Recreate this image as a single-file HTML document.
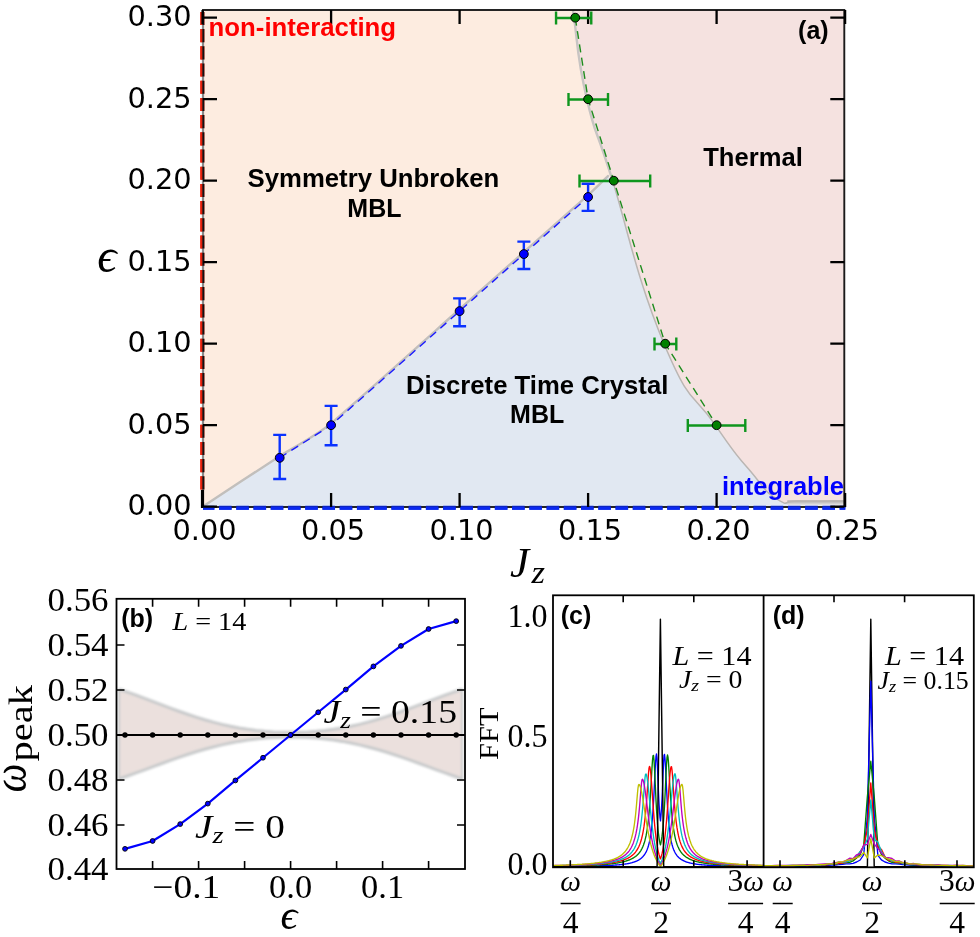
<!DOCTYPE html>
<html lang="en"><head><meta charset="utf-8"><title>Phase diagram</title>
<style>html,body{margin:0;padding:0;background:#fff;}svg{display:block;filter:blur(0.4px);}</style></head>
<body>
<svg width="980" height="937" viewBox="0 0 980 937">
<rect x="0" y="0" width="980" height="937" fill="#ffffff"/>
<defs><clipPath id="ca"><rect x="203.0" y="10.0" width="641.3" height="497.0"/></clipPath>
<filter id="bl1" x="-5%" y="-5%" width="110%" height="110%"><feGaussianBlur stdDeviation="0.6"/></filter>
<filter id="bl2" x="-5%" y="-5%" width="110%" height="110%"><feGaussianBlur stdDeviation="0.8"/></filter>
</defs>
<g clip-path="url(#ca)">
<rect x="203.0" y="10.0" width="641.3" height="497.0" fill="#fdece0"/>
<path d="M573.54 10.00 C573.67 12.05 570.49 -6.09 574.05 17.70 C577.61 41.49 576.62 55.73 586.90 99.20 C597.18 142.67 592.04 115.50 612.60 180.70 C633.16 245.90 636.59 278.50 664.00 343.70 C691.41 408.90 692.44 391.30 715.40 425.20 C738.36 459.10 733.53 451.06 750.09 470.84 C766.66 490.62 764.51 491.32 777.51 499.37 C790.51 507.41 781.03 500.56 798.84 501.00 C816.65 501.43 832.18 501.00 844.30 501.00 L844.30 501.00 L844.30 10.00 Z" fill="#f5e2e0"/>
<path d="M202.60 506.70 C208.70 502.70 268.59 463.31 278.80 456.70 C289.01 450.09 315.81 435.84 330.20 424.10 C344.59 412.36 443.28 323.69 458.70 310.00 C474.12 296.31 512.67 262.08 522.95 252.95 C533.23 243.82 580.40 202.05 587.20 195.90 C594.00 189.75 606.27 177.68 607.93 176.09 L612.60 180.70 C626.31 224.17 636.59 278.50 664.00 343.70 C691.41 408.90 692.44 391.30 715.40 425.20 C738.36 459.10 733.53 451.06 750.09 470.84 C766.66 490.62 764.51 491.32 777.51 499.37 C790.51 507.41 781.03 500.56 798.84 501.00 C816.65 501.43 832.18 501.00 844.30 501.00 L844.30 509.00 L203.00 509.00 Z" fill="#e1e8f2"/>
<defs><linearGradient id="gs" x1="0" y1="0" x2="0" y2="1"><stop offset="0" stop-color="#a9a6a4"/><stop offset="1" stop-color="#f4f4f4"/></linearGradient></defs>
<rect x="787.3" y="500.4" width="57.0" height="5.6" fill="url(#gs)"/>
<g filter="url(#bl1)" fill="none" stroke-linecap="round">
<path d="M202.60 506.70 C208.70 502.70 268.59 463.31 278.80 456.70 C289.01 450.09 315.81 435.84 330.20 424.10 C344.59 412.36 443.28 323.69 458.70 310.00 C474.12 296.31 512.67 262.08 522.95 252.95 C533.23 243.82 580.40 202.05 587.20 195.90 C594.00 189.75 606.27 177.68 607.93 176.09" stroke="#c2bfbc" stroke-width="2.4"/>
<path d="M573.54 10.00 C573.67 12.05 570.49 -6.09 574.05 17.70 C577.61 41.49 576.62 55.73 586.90 99.20 C597.18 142.67 592.04 115.50 612.60 180.70 " stroke="#c8c5c3" stroke-width="2.4"/>
<path d="M612.60 180.70 C626.31 224.17 636.59 278.50 664.00 343.70 C691.41 408.90 692.44 391.30 715.40 425.20 C738.36 459.10 733.53 451.06 750.09 470.84 C766.66 490.62 764.51 491.32 777.51 499.37 C790.51 507.41 781.03 500.56 798.84 501.00 C816.65 501.43 832.18 501.00 844.30 501.00" stroke="#bab6b3" stroke-width="1.5"/>
</g>
</g>
<polyline points="279.70,457.80 331.10,425.20 459.60,311.10 523.85,254.05 588.10,197.00" fill="none" stroke="#1a1aff" stroke-width="1.4" stroke-dasharray="8 5.8"/>
<polyline points="575.25,17.70 588.10,99.20 613.80,180.70 665.20,343.70 716.60,425.20" fill="none" stroke="#1e8c1e" stroke-width="1.4" stroke-dasharray="8 5.5"/>
<line x1="202.4" y1="11.9" x2="202.4" y2="490.5" stroke="#e8200a" stroke-width="4" stroke-dasharray="13.1 4.1"/>
<line x1="203.0" y1="507.8" x2="845.3" y2="507.8" stroke="#0a28f0" stroke-width="4" stroke-dasharray="12.6 4.64" stroke-dashoffset="-16.00"/>
<rect x="203.0" y="10.0" width="641.3" height="497.0" fill="none" stroke="#1a1a1a" stroke-width="1.9"/>
<line x1="203.0" y1="24" x2="203.0" y2="490" stroke="#8a8a8a" stroke-width="2.2"/>
<line x1="203.2" y1="11.9" x2="203.2" y2="490.5" stroke="#111" stroke-width="2.2" stroke-dasharray="13.1 4.1"/>
<line x1="202.5" y1="490" x2="202.5" y2="508.0" stroke="#000" stroke-width="3.2"/>
<line x1="203.0" y1="508.0" x2="845.3" y2="508.0" stroke="#0a28f0" stroke-width="3.4" stroke-dasharray="12.6 4.64" stroke-dashoffset="-16.00"/>
<line x1="201.3" y1="11.9" x2="201.3" y2="490.5" stroke="#e8200a" stroke-width="2" stroke-dasharray="13.1 4.1"/>
<path d="M203.0 506.70 h14 M844.3 506.70 h-14 M203.0 425.20 h14 M844.3 425.20 h-14 M203.0 343.70 h14 M844.3 343.70 h-14 M203.0 262.20 h14 M844.3 262.20 h-14 M203.0 180.70 h14 M844.3 180.70 h-14 M203.0 99.20 h14 M844.3 99.20 h-14 M203.0 17.70 h14 M844.3 17.70 h-14 M202.60 507.0 v-14 M202.60 10.0 v14 M331.10 507.0 v-14 M331.10 10.0 v14 M459.60 507.0 v-14 M459.60 10.0 v14 M588.10 507.0 v-14 M588.10 10.0 v14 M716.60 507.0 v-14 M716.60 10.0 v14 M845.10 507.0 v-14 M845.10 10.0 v14" stroke="#000" stroke-width="2.3" fill="none"/>
<path d="M279.70 434.90 V479.00 M273.20 434.90 h13 M273.20 479.00 h13" stroke="#0a32ff" stroke-width="2.4" fill="none"/>
<path d="M331.10 405.90 V445.20 M324.60 405.90 h13 M324.60 445.20 h13" stroke="#0a32ff" stroke-width="2.4" fill="none"/>
<path d="M459.60 298.40 V326.30 M453.10 298.40 h13 M453.10 326.30 h13" stroke="#0a32ff" stroke-width="2.4" fill="none"/>
<path d="M523.85 241.65 V269.05 M517.35 241.65 h13 M517.35 269.05 h13" stroke="#0a32ff" stroke-width="2.4" fill="none"/>
<path d="M588.10 183.70 V210.90 M581.60 183.70 h13 M581.60 210.90 h13" stroke="#0a32ff" stroke-width="2.4" fill="none"/>
<path d="M556.05 18.00 H591.25 M556.05 11.50 v13 M591.25 11.50 v13" stroke="#0f961e" stroke-width="2.4" fill="none"/>
<path d="M568.50 99.50 H608.00 M568.50 93.00 v13 M608.00 93.00 v13" stroke="#0f961e" stroke-width="2.4" fill="none"/>
<path d="M579.50 181.00 H650.20 M579.50 174.50 v13 M650.20 174.50 v13" stroke="#0f961e" stroke-width="2.4" fill="none"/>
<path d="M654.50 344.00 H676.30 M654.50 337.50 v13 M676.30 337.50 v13" stroke="#0f961e" stroke-width="2.4" fill="none"/>
<path d="M687.80 425.50 H745.30 M687.80 419.00 v13 M745.30 419.00 v13" stroke="#0f961e" stroke-width="2.4" fill="none"/>
<circle cx="279.70" cy="457.80" r="4.4" fill="#0000ff" stroke="#000" stroke-width="1"/>
<circle cx="331.10" cy="425.20" r="4.4" fill="#0000ff" stroke="#000" stroke-width="1"/>
<circle cx="459.60" cy="311.10" r="4.4" fill="#0000ff" stroke="#000" stroke-width="1"/>
<circle cx="523.85" cy="254.05" r="4.4" fill="#0000ff" stroke="#000" stroke-width="1"/>
<circle cx="588.10" cy="197.00" r="4.4" fill="#0000ff" stroke="#000" stroke-width="1"/>
<circle cx="575.25" cy="17.70" r="4.4" fill="#008000" stroke="#000" stroke-width="1"/>
<circle cx="588.10" cy="99.20" r="4.4" fill="#008000" stroke="#000" stroke-width="1"/>
<circle cx="613.80" cy="180.70" r="4.4" fill="#008000" stroke="#000" stroke-width="1"/>
<circle cx="665.20" cy="343.70" r="4.4" fill="#008000" stroke="#000" stroke-width="1"/>
<circle cx="716.60" cy="425.20" r="4.4" fill="#008000" stroke="#000" stroke-width="1"/>
<g font-family="'DejaVu Sans', sans-serif" font-size="28.8px" fill="#000">
<text x="191.6" y="515.1" text-anchor="end">0.00</text>
<text x="191.6" y="433.6" text-anchor="end">0.05</text>
<text x="191.6" y="352.1" text-anchor="end">0.10</text>
<text x="191.6" y="270.6" text-anchor="end">0.15</text>
<text x="191.6" y="189.1" text-anchor="end">0.20</text>
<text x="191.6" y="107.6" text-anchor="end">0.25</text>
<text x="191.6" y="26.1" text-anchor="end">0.30</text>
<text x="204.6" y="539.8" text-anchor="middle">0.00</text>
<text x="333.1" y="539.8" text-anchor="middle">0.05</text>
<text x="461.6" y="539.8" text-anchor="middle">0.10</text>
<text x="590.1" y="539.8" text-anchor="middle">0.15</text>
<text x="718.6" y="539.8" text-anchor="middle">0.20</text>
<text x="847.1" y="539.8" text-anchor="middle">0.25</text>
</g>
<text x="208.6" y="35.5" text-anchor="start" fill="#ff0000" font-family="'Liberation Sans', sans-serif" font-weight="bold" font-size="25px" textLength="187.5" lengthAdjust="spacingAndGlyphs">non-interacting</text>
<text x="373.4" y="187.0" text-anchor="middle" fill="#000" font-family="'Liberation Sans', sans-serif" font-weight="bold" font-size="25px" textLength="251.8" lengthAdjust="spacingAndGlyphs">Symmetry Unbroken</text>
<text x="374.4" y="217.0" text-anchor="middle" fill="#000" font-family="'Liberation Sans', sans-serif" font-weight="bold" font-size="25px">MBL</text>
<text x="537.2" y="393.7" text-anchor="middle" fill="#000" font-family="'Liberation Sans', sans-serif" font-weight="bold" font-size="25px" textLength="262.3" lengthAdjust="spacingAndGlyphs">Discrete Time Crystal</text>
<text x="537.2" y="423.4" text-anchor="middle" fill="#000" font-family="'Liberation Sans', sans-serif" font-weight="bold" font-size="25px">MBL</text>
<text x="753.0" y="166.0" text-anchor="middle" fill="#000" font-family="'Liberation Sans', sans-serif" font-weight="bold" font-size="25px" textLength="99.5" lengthAdjust="spacingAndGlyphs">Thermal</text>
<text x="844.0" y="495.0" text-anchor="end" fill="#0000ff" font-family="'Liberation Sans', sans-serif" font-weight="bold" font-size="25px" textLength="122.0" lengthAdjust="spacingAndGlyphs">integrable</text>
<text x="813.4" y="39.3" text-anchor="middle" fill="#000" font-family="'Liberation Sans', sans-serif" font-weight="bold" font-size="25px">(a)</text>
<text x="107" y="272.4" text-anchor="middle" font-family="'Liberation Serif', 'DejaVu Serif', serif" font-style="italic" font-size="48px">ϵ</text>
<text x="510" y="577" font-family="'Liberation Serif', 'DejaVu Serif', serif" font-style="italic" font-size="43px">J</text><text x="531.5" y="583" font-family="'Liberation Serif', 'DejaVu Serif', serif" font-style="italic" font-size="32px" textLength="13.5" lengthAdjust="spacingAndGlyphs">z</text>
<defs><clipPath id="cb"><rect x="116.5" y="598.8" width="348.5" height="270.2"/></clipPath></defs>
<g clip-path="url(#cb)">
<path d="M118.93 689.13 L127.51 692.06 L136.10 695.16 L144.68 698.38 L153.26 701.64 L161.85 704.91 L170.43 708.14 L179.01 711.27 L187.60 714.27 L196.18 717.10 L204.76 719.74 L213.35 722.17 L221.93 724.35 L230.51 726.28 L239.10 727.94 L247.68 729.33 L256.27 730.45 L264.85 731.30 L273.43 731.89 L282.02 732.23 L290.60 732.34 L299.18 732.23 L307.77 731.89 L316.35 731.30 L324.93 730.45 L333.52 729.33 L342.10 727.94 L350.69 726.28 L359.27 724.35 L367.85 722.17 L376.44 719.74 L385.02 717.10 L393.60 714.27 L402.19 711.27 L410.77 708.14 L419.35 704.91 L427.94 701.64 L436.52 698.38 L445.10 695.16 L453.69 692.06 L462.27 689.13 L462.27 778.96 L453.69 776.03 L445.10 772.96 L436.52 769.82 L427.94 766.65 L419.35 763.49 L410.77 760.39 L402.19 757.39 L393.60 754.52 L385.02 751.80 L376.44 749.28 L367.85 746.95 L359.27 744.86 L350.69 743.00 L342.10 741.40 L333.52 740.05 L324.93 738.95 L316.35 738.12 L307.77 737.54 L299.18 737.20 L290.60 737.09 L282.02 737.20 L273.43 737.54 L264.85 738.12 L256.27 738.95 L247.68 740.05 L239.10 741.40 L230.51 743.00 L221.93 744.86 L213.35 746.95 L204.76 749.28 L196.18 751.80 L187.60 754.52 L179.01 757.39 L170.43 760.39 L161.85 763.49 L153.26 766.65 L144.68 769.82 L136.10 772.96 L127.51 776.03 L118.93 778.96 Z" fill="#ebe0dd"/>
<g filter="url(#bl2)" fill="none" stroke="#c9cbcc" stroke-width="3">
<path d="M118.93 689.13 L127.51 692.06 L136.10 695.16 L144.68 698.38 L153.26 701.64 L161.85 704.91 L170.43 708.14 L179.01 711.27 L187.60 714.27 L196.18 717.10 L204.76 719.74 L213.35 722.17 L221.93 724.35 L230.51 726.28 L239.10 727.94 L247.68 729.33 L256.27 730.45 L264.85 731.30 L273.43 731.89 L282.02 732.23 L290.60 732.34 L299.18 732.23 L307.77 731.89 L316.35 731.30 L324.93 730.45 L333.52 729.33 L342.10 727.94 L350.69 726.28 L359.27 724.35 L367.85 722.17 L376.44 719.74 L385.02 717.10 L393.60 714.27 L402.19 711.27 L410.77 708.14 L419.35 704.91 L427.94 701.64 L436.52 698.38 L445.10 695.16 L453.69 692.06 L462.27 689.13"/>
<path d="M118.93 778.96 L127.51 776.03 L136.10 772.96 L144.68 769.82 L153.26 766.65 L161.85 763.49 L170.43 760.39 L179.01 757.39 L187.60 754.52 L196.18 751.80 L204.76 749.28 L213.35 746.95 L221.93 744.86 L230.51 743.00 L239.10 741.40 L247.68 740.05 L256.27 738.95 L264.85 738.12 L273.43 737.54 L282.02 737.20 L290.60 737.09 L299.18 737.20 L307.77 737.54 L316.35 738.12 L324.93 738.95 L333.52 740.05 L342.10 741.40 L350.69 743.00 L359.27 744.86 L367.85 746.95 L376.44 749.28 L385.02 751.80 L393.60 754.52 L402.19 757.39 L410.77 760.39 L419.35 763.49 L427.94 766.65 L436.52 769.82 L445.10 772.96 L453.69 776.03 L462.27 778.96"/>
<path d="M118.93 689.13 V778.96 M462.27 689.13 V778.96" stroke-width="2"/>
</g></g>
<line x1="116.50" y1="735.00" x2="465.00" y2="735.00" stroke="#000" stroke-width="2"/>
<circle cx="125.00" cy="735.00" r="2.7" fill="#000"/>
<circle cx="152.60" cy="735.00" r="2.7" fill="#000"/>
<circle cx="180.20" cy="735.00" r="2.7" fill="#000"/>
<circle cx="207.80" cy="735.00" r="2.7" fill="#000"/>
<circle cx="235.40" cy="735.00" r="2.7" fill="#000"/>
<circle cx="263.00" cy="735.00" r="2.7" fill="#000"/>
<circle cx="290.60" cy="735.00" r="2.7" fill="#000"/>
<circle cx="318.20" cy="735.00" r="2.7" fill="#000"/>
<circle cx="345.80" cy="735.00" r="2.7" fill="#000"/>
<circle cx="373.40" cy="735.00" r="2.7" fill="#000"/>
<circle cx="401.00" cy="735.00" r="2.7" fill="#000"/>
<circle cx="428.60" cy="735.00" r="2.7" fill="#000"/>
<circle cx="456.20" cy="735.00" r="2.7" fill="#000"/>
<polyline points="125.00,848.85 152.60,840.98 180.20,824.10 207.80,803.62 235.40,780.45 263.00,757.73 290.60,735.00 318.20,712.27 345.80,689.55 373.40,666.38 401.00,645.90 428.60,629.02 456.20,621.15" fill="none" stroke="#0000ff" stroke-width="2.2" stroke-linejoin="round"/>
<circle cx="125.00" cy="848.85" r="2.4" fill="#0000ff" stroke="#000" stroke-width="0.9"/>
<circle cx="152.60" cy="840.98" r="2.4" fill="#0000ff" stroke="#000" stroke-width="0.9"/>
<circle cx="180.20" cy="824.10" r="2.4" fill="#0000ff" stroke="#000" stroke-width="0.9"/>
<circle cx="207.80" cy="803.62" r="2.4" fill="#0000ff" stroke="#000" stroke-width="0.9"/>
<circle cx="235.40" cy="780.45" r="2.4" fill="#0000ff" stroke="#000" stroke-width="0.9"/>
<circle cx="263.00" cy="757.73" r="2.4" fill="#0000ff" stroke="#000" stroke-width="0.9"/>
<circle cx="290.60" cy="735.00" r="2.4" fill="#0000ff" stroke="#000" stroke-width="0.9"/>
<circle cx="318.20" cy="712.27" r="2.4" fill="#0000ff" stroke="#000" stroke-width="0.9"/>
<circle cx="345.80" cy="689.55" r="2.4" fill="#0000ff" stroke="#000" stroke-width="0.9"/>
<circle cx="373.40" cy="666.38" r="2.4" fill="#0000ff" stroke="#000" stroke-width="0.9"/>
<circle cx="401.00" cy="645.90" r="2.4" fill="#0000ff" stroke="#000" stroke-width="0.9"/>
<circle cx="428.60" cy="629.02" r="2.4" fill="#0000ff" stroke="#000" stroke-width="0.9"/>
<circle cx="456.20" cy="621.15" r="2.4" fill="#0000ff" stroke="#000" stroke-width="0.9"/>
<rect x="116.5" y="598.8" width="348.5" height="270.2" fill="none" stroke="#000" stroke-width="1.8"/>
<path d="M116.5 825.00 h8 M465.0 825.00 h-8 M116.5 780.00 h8 M465.0 780.00 h-8 M116.5 735.00 h8 M465.0 735.00 h-8 M116.5 690.00 h8 M465.0 690.00 h-8 M116.5 645.00 h8 M465.0 645.00 h-8 M152.60 869.0 v-8 M152.60 598.8 v8 M198.60 869.0 v-8 M198.60 598.8 v8 M244.60 869.0 v-8 M244.60 598.8 v8 M290.60 869.0 v-8 M290.60 598.8 v8 M336.60 869.0 v-8 M336.60 598.8 v8 M382.60 869.0 v-8 M382.60 598.8 v8 M428.60 869.0 v-8 M428.60 598.8 v8" stroke="#000" stroke-width="1.6" fill="none"/>
<g font-family="'Liberation Serif', 'DejaVu Serif', serif" font-size="33px" fill="#000">
<text x="108.5" y="880.3" text-anchor="end" textLength="61" lengthAdjust="spacingAndGlyphs">0.44</text>
<text x="108.5" y="836.2" text-anchor="end" textLength="61" lengthAdjust="spacingAndGlyphs">0.46</text>
<text x="108.5" y="791.2" text-anchor="end" textLength="61" lengthAdjust="spacingAndGlyphs">0.48</text>
<text x="108.5" y="746.2" text-anchor="end" textLength="61" lengthAdjust="spacingAndGlyphs">0.50</text>
<text x="108.5" y="701.2" text-anchor="end" textLength="61" lengthAdjust="spacingAndGlyphs">0.52</text>
<text x="108.5" y="656.2" text-anchor="end" textLength="61" lengthAdjust="spacingAndGlyphs">0.54</text>
<text x="108.5" y="611.2" text-anchor="end" textLength="61" lengthAdjust="spacingAndGlyphs">0.56</text>
<text x="220.3" y="897.5" text-anchor="end" textLength="68" lengthAdjust="spacingAndGlyphs">−0.1</text>
<text x="290.6" y="897.5" text-anchor="middle" textLength="43" lengthAdjust="spacingAndGlyphs">0.0</text>
<text x="382.6" y="897.5" text-anchor="middle" textLength="43" lengthAdjust="spacingAndGlyphs">0.1</text>
</g>
<text x="137.2" y="627.4" text-anchor="middle" fill="#000" font-family="'Liberation Sans', sans-serif" font-weight="bold" font-size="25px">(b)</text>
<text x="172.5" y="630.3" font-family="'Liberation Serif', 'DejaVu Serif', serif" font-size="25.5px" textLength="73.8" lengthAdjust="spacingAndGlyphs"><tspan font-style="italic">L</tspan> = 14</text>
<text x="323.5" y="723" font-family="'Liberation Serif', 'DejaVu Serif', serif" font-size="33px" textLength="133.5" lengthAdjust="spacingAndGlyphs"><tspan font-style="italic">J</tspan><tspan font-style="italic" font-size="24px" dy="5">z</tspan><tspan dy="-5"> = 0.15</tspan></text>
<text x="195" y="837.5" font-family="'Liberation Serif', 'DejaVu Serif', serif" font-size="33px" textLength="90" lengthAdjust="spacingAndGlyphs"><tspan font-style="italic">J</tspan><tspan font-style="italic" font-size="24px" dy="5">z</tspan><tspan dy="-5"> = 0</tspan></text>
<text x="289.0" y="929" text-anchor="middle" font-family="'Liberation Serif', 'DejaVu Serif', serif" font-style="italic" font-size="42px">ϵ</text>
<text transform="translate(26.2,792.3) rotate(-90)" font-family="'Liberation Serif', 'DejaVu Serif', serif" font-size="47px" font-style="italic" textLength="28.5" lengthAdjust="spacingAndGlyphs">ω</text>
<text transform="translate(32.2,761.5) rotate(-90)" font-family="'Liberation Serif', 'DejaVu Serif', serif" font-size="33px" textLength="76.5" lengthAdjust="spacingAndGlyphs">peak</text>
<defs><clipPath id="cc"><rect x="553.0" y="595.3" width="210.6" height="272.0"/></clipPath><clipPath id="cd"><rect x="763.6" y="595.3" width="210.2" height="272.0"/></clipPath></defs>
<g clip-path="url(#cc)" fill="none" stroke-width="1.35" stroke-linejoin="round">
<polyline stroke="#0000ff" points="553.0,866.3 553.5,866.3 554.0,866.3 554.5,866.3 555.0,866.3 555.5,866.3 556.0,866.3 556.5,866.3 557.0,866.3 557.5,866.3 558.0,866.3 558.5,866.3 559.0,866.3 559.5,866.3 560.0,866.3 560.5,866.3 561.0,866.3 561.5,866.3 562.0,866.3 562.5,866.3 563.0,866.3 563.5,866.3 564.0,866.3 564.5,866.3 565.0,866.3 565.5,866.3 566.0,866.3 566.5,866.3 567.0,866.3 567.5,866.2 568.0,866.2 568.5,866.2 569.0,866.2 569.5,866.2 570.0,866.2 570.5,866.2 571.0,866.2 571.5,866.2 572.0,866.2 572.5,866.2 573.0,866.2 573.5,866.2 574.0,866.2 574.5,866.2 575.0,866.2 575.5,866.2 576.0,866.2 576.5,866.2 577.0,866.2 577.5,866.2 578.0,866.2 578.5,866.1 579.0,866.1 579.5,866.1 580.0,866.1 580.5,866.1 581.0,866.1 581.5,866.1 582.0,866.1 582.5,866.1 583.0,866.1 583.5,866.1 584.0,866.1 584.5,866.1 585.0,866.1 585.5,866.1 586.0,866.0 586.5,866.0 587.0,866.0 587.5,866.0 588.0,866.0 588.5,866.0 589.0,866.0 589.5,866.0 590.0,866.0 590.5,866.0 591.0,866.0 591.5,866.0 592.0,865.9 592.5,865.9 593.0,865.9 593.5,865.9 594.0,865.9 594.5,865.9 595.0,865.9 595.5,865.9 596.0,865.9 596.5,865.8 597.0,865.8 597.5,865.8 598.0,865.8 598.5,865.8 599.0,865.8 599.5,865.8 600.0,865.7 600.5,865.7 601.0,865.7 601.5,865.7 602.0,865.7 602.5,865.7 603.0,865.7 603.5,865.6 604.0,865.6 604.5,865.6 605.0,865.6 605.5,865.6 606.0,865.5 606.5,865.5 607.0,865.5 607.5,865.5 608.0,865.5 608.5,865.4 609.0,865.4 609.5,865.4 610.0,865.4 610.5,865.3 611.0,865.3 611.5,865.3 612.0,865.3 612.5,865.2 613.0,865.2 613.5,865.2 614.0,865.1 614.5,865.1 615.0,865.1 615.5,865.0 616.0,865.0 616.5,865.0 617.0,864.9 617.5,864.9 618.0,864.8 618.5,864.8 619.0,864.8 619.5,864.7 620.0,864.7 620.5,864.6 621.0,864.6 621.5,864.5 622.0,864.5 622.5,864.4 623.0,864.3 623.5,864.3 624.0,864.2 624.5,864.1 625.0,864.1 625.5,864.0 626.0,863.9 626.5,863.8 627.0,863.8 627.5,863.7 628.0,863.6 628.5,863.5 629.0,863.4 629.5,863.3 630.0,863.2 630.5,863.1 631.0,862.9 631.5,862.8 632.0,862.7 632.5,862.5 633.0,862.4 633.5,862.2 634.0,862.1 634.5,861.9 635.0,861.7 635.5,861.5 636.0,861.3 636.5,861.1 637.0,860.9 637.5,860.6 638.0,860.4 638.5,860.1 639.0,859.8 639.5,859.5 640.0,859.1 640.5,858.8 641.0,858.4 641.5,858.0 642.0,857.5 642.5,857.0 643.0,856.5 643.5,855.9 644.0,855.3 644.5,854.6 645.0,853.9 645.5,853.0 646.0,852.1 646.5,851.1 647.0,849.9 647.5,848.6 648.0,847.2 648.5,845.5 649.0,843.6 649.5,841.5 650.0,838.9 650.5,836.0 651.0,832.5 651.5,828.4 652.0,823.5 652.5,817.7 653.0,810.8 653.5,802.7 654.0,793.4 654.5,783.2 655.0,772.8 655.5,763.3 656.0,756.5 656.5,754.0 657.0,758.0 657.5,768.2 658.0,780.8 658.5,792.9 659.0,803.1 659.5,811.3 660.0,817.7 660.5,820.9 661.0,815.4 661.5,808.3 662.0,799.3 662.5,788.3 663.0,775.7 663.5,763.6 664.0,755.5 664.5,754.4 665.0,758.8 665.5,766.9 666.0,776.9 666.5,787.4 667.0,797.3 667.5,806.1 668.0,813.7 668.5,820.1 669.0,825.5 669.5,830.1 670.0,833.9 670.5,837.2 671.0,840.0 671.5,842.4 672.0,844.4 672.5,846.2 673.0,847.8 673.5,849.2 674.0,850.4 674.5,851.5 675.0,852.5 675.5,853.4 676.0,854.2 676.5,854.9 677.0,855.6 677.5,856.2 678.0,856.7 678.5,857.2 679.0,857.7 679.5,858.1 680.0,858.5 680.5,858.9 681.0,859.3 681.5,859.6 682.0,859.9 682.5,860.2 683.0,860.5 683.5,860.7 684.0,861.0 684.5,861.2 685.0,861.4 685.5,861.6 686.0,861.8 686.5,862.0 687.0,862.1 687.5,862.3 688.0,862.4 688.5,862.6 689.0,862.7 689.5,862.9 690.0,863.0 690.5,863.1 691.0,863.2 691.5,863.3 692.0,863.4 692.5,863.5 693.0,863.6 693.5,863.7 694.0,863.8 694.5,863.9 695.0,863.9 695.5,864.0 696.0,864.1 696.5,864.2 697.0,864.2 697.5,864.3 698.0,864.4 698.5,864.4 699.0,864.5 699.5,864.5 700.0,864.6 700.5,864.6 701.0,864.7 701.5,864.7 702.0,864.8 702.5,864.8 703.0,864.9 703.5,864.9 704.0,864.9 704.5,865.0 705.0,865.0 705.5,865.1 706.0,865.1 706.5,865.1 707.0,865.2 707.5,865.2 708.0,865.2 708.5,865.2 709.0,865.3 709.5,865.3 710.0,865.3 710.5,865.4 711.0,865.4 711.5,865.4 712.0,865.4 712.5,865.4 713.0,865.5 713.5,865.5 714.0,865.5 714.5,865.5 715.0,865.6 715.5,865.6 716.0,865.6 716.5,865.6 717.0,865.6 717.5,865.6 718.0,865.7 718.5,865.7 719.0,865.7 719.5,865.7 720.0,865.7 720.5,865.7 721.0,865.8 721.5,865.8 722.0,865.8 722.5,865.8 723.0,865.8 723.5,865.8 724.0,865.8 724.5,865.8 725.0,865.9 725.5,865.9 726.0,865.9 726.5,865.9 727.0,865.9 727.5,865.9 728.0,865.9 728.5,865.9 729.0,865.9 729.5,866.0 730.0,866.0 730.5,866.0 731.0,866.0 731.5,866.0 732.0,866.0 732.5,866.0 733.0,866.0 733.5,866.0 734.0,866.0 734.5,866.0 735.0,866.0 735.5,866.1 736.0,866.1 736.5,866.1 737.0,866.1 737.5,866.1 738.0,866.1 738.5,866.1 739.0,866.1 739.5,866.1 740.0,866.1 740.5,866.1 741.0,866.1 741.5,866.1 742.0,866.1 742.5,866.1 743.0,866.2 743.5,866.2 744.0,866.2 744.5,866.2 745.0,866.2 745.5,866.2 746.0,866.2 746.5,866.2 747.0,866.2 747.5,866.2 748.0,866.2 748.5,866.2 749.0,866.2 749.5,866.2 750.0,866.2 750.5,866.2 751.0,866.2 751.5,866.2 752.0,866.2 752.5,866.2 753.0,866.2 753.5,866.3 754.0,866.3 754.5,866.3 755.0,866.3 755.5,866.3 756.0,866.3 756.5,866.3 757.0,866.3 757.5,866.3 758.0,866.3 758.5,866.3 759.0,866.3 759.5,866.3 760.0,866.3 760.5,866.3 761.0,866.3 761.5,866.3 762.0,866.3 762.5,866.3 763.0,866.3 763.5,866.3"/>
<polyline stroke="#008000" points="553.0,866.0 553.5,866.0 554.0,866.0 554.5,866.0 555.0,866.0 555.5,866.0 556.0,866.0 556.5,866.0 557.0,866.0 557.5,866.0 558.0,866.0 558.5,866.0 559.0,866.0 559.5,866.0 560.0,866.0 560.5,865.9 561.0,865.9 561.5,865.9 562.0,865.9 562.5,865.9 563.0,865.9 563.5,865.9 564.0,865.9 564.5,865.9 565.0,865.9 565.5,865.9 566.0,865.9 566.5,865.9 567.0,865.9 567.5,865.8 568.0,865.8 568.5,865.8 569.0,865.8 569.5,865.8 570.0,865.8 570.5,865.8 571.0,865.8 571.5,865.8 572.0,865.8 572.5,865.8 573.0,865.7 573.5,865.7 574.0,865.7 574.5,865.7 575.0,865.7 575.5,865.7 576.0,865.7 576.5,865.7 577.0,865.7 577.5,865.6 578.0,865.6 578.5,865.6 579.0,865.6 579.5,865.6 580.0,865.6 580.5,865.6 581.0,865.6 581.5,865.5 582.0,865.5 582.5,865.5 583.0,865.5 583.5,865.5 584.0,865.5 584.5,865.5 585.0,865.4 585.5,865.4 586.0,865.4 586.5,865.4 587.0,865.4 587.5,865.4 588.0,865.3 588.5,865.3 589.0,865.3 589.5,865.3 590.0,865.3 590.5,865.2 591.0,865.2 591.5,865.2 592.0,865.2 592.5,865.2 593.0,865.1 593.5,865.1 594.0,865.1 594.5,865.1 595.0,865.0 595.5,865.0 596.0,865.0 596.5,865.0 597.0,864.9 597.5,864.9 598.0,864.9 598.5,864.9 599.0,864.8 599.5,864.8 600.0,864.8 600.5,864.7 601.0,864.7 601.5,864.7 602.0,864.6 602.5,864.6 603.0,864.6 603.5,864.5 604.0,864.5 604.5,864.5 605.0,864.4 605.5,864.4 606.0,864.3 606.5,864.3 607.0,864.2 607.5,864.2 608.0,864.2 608.5,864.1 609.0,864.1 609.5,864.0 610.0,864.0 610.5,863.9 611.0,863.9 611.5,863.8 612.0,863.7 612.5,863.7 613.0,863.6 613.5,863.6 614.0,863.5 614.5,863.4 615.0,863.4 615.5,863.3 616.0,863.2 616.5,863.1 617.0,863.1 617.5,863.0 618.0,862.9 618.5,862.8 619.0,862.7 619.5,862.6 620.0,862.5 620.5,862.4 621.0,862.3 621.5,862.2 622.0,862.1 622.5,862.0 623.0,861.9 623.5,861.7 624.0,861.6 624.5,861.5 625.0,861.3 625.5,861.2 626.0,861.1 626.5,860.9 627.0,860.7 627.5,860.6 628.0,860.4 628.5,860.2 629.0,860.0 629.5,859.8 630.0,859.6 630.5,859.4 631.0,859.2 631.5,858.9 632.0,858.7 632.5,858.4 633.0,858.1 633.5,857.8 634.0,857.5 634.5,857.2 635.0,856.8 635.5,856.5 636.0,856.1 636.5,855.7 637.0,855.2 637.5,854.7 638.0,854.2 638.5,853.7 639.0,853.1 639.5,852.5 640.0,851.8 640.5,851.1 641.0,850.3 641.5,849.4 642.0,848.5 642.5,847.4 643.0,846.3 643.5,845.0 644.0,843.6 644.5,842.0 645.0,840.2 645.5,838.2 646.0,836.0 646.5,833.4 647.0,830.5 647.5,827.2 648.0,823.4 648.5,819.0 649.0,813.9 649.5,808.1 650.0,801.4 650.5,793.8 651.0,785.3 651.5,776.3 652.0,767.6 652.5,760.2 653.0,755.8 653.5,755.4 654.0,760.0 654.5,768.4 655.0,778.9 655.5,789.9 656.0,800.2 656.5,809.4 657.0,817.2 657.5,823.8 658.0,829.3 658.5,833.8 659.0,837.6 659.5,840.8 660.0,843.5 660.5,844.9 661.0,842.5 661.5,839.6 662.0,836.2 662.5,832.1 663.0,827.2 663.5,821.3 664.0,814.2 664.5,805.9 665.0,796.2 665.5,785.6 666.0,774.6 666.5,764.7 667.0,757.6 667.5,755.0 668.0,757.1 668.5,762.9 669.0,771.0 669.5,780.0 670.0,788.8 670.5,796.9 671.0,804.2 671.5,810.5 672.0,816.0 672.5,820.8 673.0,825.0 673.5,828.6 674.0,831.7 674.5,834.5 675.0,836.9 675.5,839.1 676.0,841.0 676.5,842.6 677.0,844.2 677.5,845.5 678.0,846.7 678.5,847.8 679.0,848.9 679.5,849.8 680.0,850.6 680.5,851.4 681.0,852.1 681.5,852.8 682.0,853.4 682.5,853.9 683.0,854.5 683.5,854.9 684.0,855.4 684.5,855.8 685.0,856.2 685.5,856.6 686.0,857.0 686.5,857.3 687.0,857.6 687.5,857.9 688.0,858.2 688.5,858.5 689.0,858.8 689.5,859.0 690.0,859.3 690.5,859.5 691.0,859.7 691.5,859.9 692.0,860.1 692.5,860.3 693.0,860.5 693.5,860.6 694.0,860.8 694.5,861.0 695.0,861.1 695.5,861.3 696.0,861.4 696.5,861.5 697.0,861.7 697.5,861.8 698.0,861.9 698.5,862.0 699.0,862.1 699.5,862.3 700.0,862.4 700.5,862.5 701.0,862.6 701.5,862.7 702.0,862.7 702.5,862.8 703.0,862.9 703.5,863.0 704.0,863.1 704.5,863.2 705.0,863.2 705.5,863.3 706.0,863.4 706.5,863.4 707.0,863.5 707.5,863.6 708.0,863.6 708.5,863.7 709.0,863.8 709.5,863.8 710.0,863.9 710.5,863.9 711.0,864.0 711.5,864.0 712.0,864.1 712.5,864.1 713.0,864.2 713.5,864.2 714.0,864.3 714.5,864.3 715.0,864.4 715.5,864.4 716.0,864.4 716.5,864.5 717.0,864.5 717.5,864.5 718.0,864.6 718.5,864.6 719.0,864.6 719.5,864.7 720.0,864.7 720.5,864.7 721.0,864.8 721.5,864.8 722.0,864.8 722.5,864.9 723.0,864.9 723.5,864.9 724.0,864.9 724.5,865.0 725.0,865.0 725.5,865.0 726.0,865.0 726.5,865.1 727.0,865.1 727.5,865.1 728.0,865.1 728.5,865.2 729.0,865.2 729.5,865.2 730.0,865.2 730.5,865.2 731.0,865.3 731.5,865.3 732.0,865.3 732.5,865.3 733.0,865.3 733.5,865.4 734.0,865.4 734.5,865.4 735.0,865.4 735.5,865.4 736.0,865.4 736.5,865.5 737.0,865.5 737.5,865.5 738.0,865.5 738.5,865.5 739.0,865.5 739.5,865.5 740.0,865.6 740.5,865.6 741.0,865.6 741.5,865.6 742.0,865.6 742.5,865.6 743.0,865.6 743.5,865.6 744.0,865.7 744.5,865.7 745.0,865.7 745.5,865.7 746.0,865.7 746.5,865.7 747.0,865.7 747.5,865.7 748.0,865.7 748.5,865.8 749.0,865.8 749.5,865.8 750.0,865.8 750.5,865.8 751.0,865.8 751.5,865.8 752.0,865.8 752.5,865.8 753.0,865.8 753.5,865.8 754.0,865.9 754.5,865.9 755.0,865.9 755.5,865.9 756.0,865.9 756.5,865.9 757.0,865.9 757.5,865.9 758.0,865.9 758.5,865.9 759.0,865.9 759.5,865.9 760.0,865.9 760.5,866.0 761.0,866.0 761.5,866.0 762.0,866.0 762.5,866.0 763.0,866.0 763.5,866.0"/>
<polyline stroke="#ff0000" points="553.0,865.9 553.5,865.8 554.0,865.8 554.5,865.8 555.0,865.8 555.5,865.8 556.0,865.8 556.5,865.8 557.0,865.8 557.5,865.8 558.0,865.8 558.5,865.8 559.0,865.8 559.5,865.8 560.0,865.7 560.5,865.7 561.0,865.7 561.5,865.7 562.0,865.7 562.5,865.7 563.0,865.7 563.5,865.7 564.0,865.7 564.5,865.7 565.0,865.6 565.5,865.6 566.0,865.6 566.5,865.6 567.0,865.6 567.5,865.6 568.0,865.6 568.5,865.6 569.0,865.6 569.5,865.5 570.0,865.5 570.5,865.5 571.0,865.5 571.5,865.5 572.0,865.5 572.5,865.5 573.0,865.5 573.5,865.4 574.0,865.4 574.5,865.4 575.0,865.4 575.5,865.4 576.0,865.4 576.5,865.3 577.0,865.3 577.5,865.3 578.0,865.3 578.5,865.3 579.0,865.3 579.5,865.3 580.0,865.2 580.5,865.2 581.0,865.2 581.5,865.2 582.0,865.2 582.5,865.1 583.0,865.1 583.5,865.1 584.0,865.1 584.5,865.1 585.0,865.0 585.5,865.0 586.0,865.0 586.5,865.0 587.0,864.9 587.5,864.9 588.0,864.9 588.5,864.9 589.0,864.8 589.5,864.8 590.0,864.8 590.5,864.8 591.0,864.7 591.5,864.7 592.0,864.7 592.5,864.7 593.0,864.6 593.5,864.6 594.0,864.6 594.5,864.5 595.0,864.5 595.5,864.5 596.0,864.4 596.5,864.4 597.0,864.4 597.5,864.3 598.0,864.3 598.5,864.2 599.0,864.2 599.5,864.2 600.0,864.1 600.5,864.1 601.0,864.0 601.5,864.0 602.0,863.9 602.5,863.9 603.0,863.9 603.5,863.8 604.0,863.8 604.5,863.7 605.0,863.6 605.5,863.6 606.0,863.5 606.5,863.5 607.0,863.4 607.5,863.4 608.0,863.3 608.5,863.2 609.0,863.2 609.5,863.1 610.0,863.0 610.5,863.0 611.0,862.9 611.5,862.8 612.0,862.7 612.5,862.6 613.0,862.6 613.5,862.5 614.0,862.4 614.5,862.3 615.0,862.2 615.5,862.1 616.0,862.0 616.5,861.9 617.0,861.8 617.5,861.7 618.0,861.6 618.5,861.4 619.0,861.3 619.5,861.2 620.0,861.1 620.5,860.9 621.0,860.8 621.5,860.6 622.0,860.5 622.5,860.3 623.0,860.2 623.5,860.0 624.0,859.8 624.5,859.6 625.0,859.4 625.5,859.2 626.0,859.0 626.5,858.8 627.0,858.6 627.5,858.3 628.0,858.1 628.5,857.8 629.0,857.5 629.5,857.3 630.0,857.0 630.5,856.6 631.0,856.3 631.5,855.9 632.0,855.5 632.5,855.1 633.0,854.7 633.5,854.3 634.0,853.8 634.5,853.2 635.0,852.7 635.5,852.1 636.0,851.4 636.5,850.7 637.0,850.0 637.5,849.1 638.0,848.2 638.5,847.3 639.0,846.2 639.5,845.0 640.0,843.7 640.5,842.3 641.0,840.7 641.5,839.0 642.0,837.0 642.5,834.8 643.0,832.3 643.5,829.5 644.0,826.4 644.5,822.7 645.0,818.6 645.5,813.9 646.0,808.5 646.5,802.3 647.0,795.4 647.5,787.9 648.0,780.2 648.5,773.2 649.0,768.2 649.5,766.4 650.0,767.5 650.5,770.8 651.0,775.9 651.5,782.3 652.0,789.4 652.5,796.7 653.0,804.0 653.5,810.9 654.0,817.4 654.5,823.2 655.0,828.5 655.5,833.3 656.0,837.5 656.5,841.2 657.0,844.5 657.5,847.5 658.0,850.1 658.5,852.4 659.0,854.5 659.5,856.3 660.0,858.0 660.5,858.9 661.0,857.3 661.5,855.6 662.0,853.7 662.5,851.5 663.0,849.1 663.5,846.3 664.0,843.3 664.5,839.8 665.0,835.8 665.5,831.4 666.0,826.5 666.5,821.0 667.0,814.9 667.5,808.2 668.0,801.1 668.5,793.8 669.0,786.5 669.5,779.6 670.0,773.7 670.5,769.3 671.0,766.8 671.5,766.7 672.0,769.9 672.5,775.8 673.0,783.2 673.5,790.9 674.0,798.2 674.5,804.9 675.0,810.7 675.5,815.9 676.0,820.3 676.5,824.2 677.0,827.7 677.5,830.7 678.0,833.3 678.5,835.7 679.0,837.8 679.5,839.7 680.0,841.4 680.5,842.9 681.0,844.3 681.5,845.5 682.0,846.6 682.5,847.7 683.0,848.6 683.5,849.5 684.0,850.3 684.5,851.0 685.0,851.7 685.5,852.3 686.0,852.9 686.5,853.5 687.0,854.0 687.5,854.4 688.0,854.9 688.5,855.3 689.0,855.7 689.5,856.1 690.0,856.4 690.5,856.8 691.0,857.1 691.5,857.4 692.0,857.7 692.5,857.9 693.0,858.2 693.5,858.4 694.0,858.7 694.5,858.9 695.0,859.1 695.5,859.3 696.0,859.5 696.5,859.7 697.0,859.9 697.5,860.1 698.0,860.2 698.5,860.4 699.0,860.5 699.5,860.7 700.0,860.8 700.5,861.0 701.0,861.1 701.5,861.2 702.0,861.4 702.5,861.5 703.0,861.6 703.5,861.7 704.0,861.8 704.5,861.9 705.0,862.0 705.5,862.1 706.0,862.2 706.5,862.3 707.0,862.4 707.5,862.5 708.0,862.6 708.5,862.7 709.0,862.8 709.5,862.8 710.0,862.9 710.5,863.0 711.0,863.1 711.5,863.1 712.0,863.2 712.5,863.3 713.0,863.3 713.5,863.4 714.0,863.4 714.5,863.5 715.0,863.6 715.5,863.6 716.0,863.7 716.5,863.7 717.0,863.8 717.5,863.8 718.0,863.9 718.5,863.9 719.0,864.0 719.5,864.0 720.0,864.1 720.5,864.1 721.0,864.1 721.5,864.2 722.0,864.2 722.5,864.3 723.0,864.3 723.5,864.3 724.0,864.4 724.5,864.4 725.0,864.4 725.5,864.5 726.0,864.5 726.5,864.5 727.0,864.6 727.5,864.6 728.0,864.6 728.5,864.7 729.0,864.7 729.5,864.7 730.0,864.8 730.5,864.8 731.0,864.8 731.5,864.8 732.0,864.9 732.5,864.9 733.0,864.9 733.5,864.9 734.0,865.0 734.5,865.0 735.0,865.0 735.5,865.0 736.0,865.0 736.5,865.1 737.0,865.1 737.5,865.1 738.0,865.1 738.5,865.1 739.0,865.2 739.5,865.2 740.0,865.2 740.5,865.2 741.0,865.2 741.5,865.3 742.0,865.3 742.5,865.3 743.0,865.3 743.5,865.3 744.0,865.3 744.5,865.4 745.0,865.4 745.5,865.4 746.0,865.4 746.5,865.4 747.0,865.4 747.5,865.4 748.0,865.5 748.5,865.5 749.0,865.5 749.5,865.5 750.0,865.5 750.5,865.5 751.0,865.5 751.5,865.5 752.0,865.6 752.5,865.6 753.0,865.6 753.5,865.6 754.0,865.6 754.5,865.6 755.0,865.6 755.5,865.6 756.0,865.6 756.5,865.7 757.0,865.7 757.5,865.7 758.0,865.7 758.5,865.7 759.0,865.7 759.5,865.7 760.0,865.7 760.5,865.7 761.0,865.7 761.5,865.8 762.0,865.8 762.5,865.8 763.0,865.8 763.5,865.8"/>
<polyline stroke="#00bfbf" points="553.0,865.7 553.5,865.7 554.0,865.7 554.5,865.7 555.0,865.7 555.5,865.7 556.0,865.7 556.5,865.7 557.0,865.7 557.5,865.7 558.0,865.6 558.5,865.6 559.0,865.6 559.5,865.6 560.0,865.6 560.5,865.6 561.0,865.6 561.5,865.6 562.0,865.6 562.5,865.5 563.0,865.5 563.5,865.5 564.0,865.5 564.5,865.5 565.0,865.5 565.5,865.5 566.0,865.5 566.5,865.5 567.0,865.4 567.5,865.4 568.0,865.4 568.5,865.4 569.0,865.4 569.5,865.4 570.0,865.4 570.5,865.3 571.0,865.3 571.5,865.3 572.0,865.3 572.5,865.3 573.0,865.3 573.5,865.2 574.0,865.2 574.5,865.2 575.0,865.2 575.5,865.2 576.0,865.2 576.5,865.1 577.0,865.1 577.5,865.1 578.0,865.1 578.5,865.1 579.0,865.0 579.5,865.0 580.0,865.0 580.5,865.0 581.0,865.0 581.5,864.9 582.0,864.9 582.5,864.9 583.0,864.9 583.5,864.8 584.0,864.8 584.5,864.8 585.0,864.8 585.5,864.7 586.0,864.7 586.5,864.7 587.0,864.6 587.5,864.6 588.0,864.6 588.5,864.6 589.0,864.5 589.5,864.5 590.0,864.5 590.5,864.4 591.0,864.4 591.5,864.4 592.0,864.3 592.5,864.3 593.0,864.3 593.5,864.2 594.0,864.2 594.5,864.1 595.0,864.1 595.5,864.1 596.0,864.0 596.5,864.0 597.0,863.9 597.5,863.9 598.0,863.8 598.5,863.8 599.0,863.7 599.5,863.7 600.0,863.6 600.5,863.6 601.0,863.5 601.5,863.5 602.0,863.4 602.5,863.4 603.0,863.3 603.5,863.3 604.0,863.2 604.5,863.1 605.0,863.1 605.5,863.0 606.0,862.9 606.5,862.8 607.0,862.8 607.5,862.7 608.0,862.6 608.5,862.5 609.0,862.5 609.5,862.4 610.0,862.3 610.5,862.2 611.0,862.1 611.5,862.0 612.0,861.9 612.5,861.8 613.0,861.7 613.5,861.6 614.0,861.5 614.5,861.4 615.0,861.3 615.5,861.1 616.0,861.0 616.5,860.9 617.0,860.7 617.5,860.6 618.0,860.4 618.5,860.3 619.0,860.1 619.5,860.0 620.0,859.8 620.5,859.6 621.0,859.4 621.5,859.2 622.0,859.0 622.5,858.8 623.0,858.6 623.5,858.4 624.0,858.1 624.5,857.9 625.0,857.6 625.5,857.4 626.0,857.1 626.5,856.8 627.0,856.4 627.5,856.1 628.0,855.7 628.5,855.4 629.0,855.0 629.5,854.5 630.0,854.1 630.5,853.6 631.0,853.1 631.5,852.5 632.0,851.9 632.5,851.2 633.0,850.5 633.5,849.8 634.0,849.0 634.5,848.1 635.0,847.1 635.5,846.1 636.0,844.9 636.5,843.6 637.0,842.3 637.5,840.7 638.0,839.0 638.5,837.1 639.0,835.0 639.5,832.6 640.0,829.9 640.5,826.9 641.0,823.5 641.5,819.5 642.0,815.0 642.5,809.9 643.0,804.0 643.5,797.5 644.0,790.6 644.5,783.7 645.0,777.9 645.5,774.4 646.0,773.9 646.5,775.0 647.0,777.3 647.5,780.6 648.0,784.7 648.5,789.4 649.0,794.5 649.5,799.8 650.0,805.1 650.5,810.4 651.0,815.4 651.5,820.2 652.0,824.7 652.5,828.9 653.0,832.7 653.5,836.3 654.0,839.6 654.5,842.6 655.0,845.3 655.5,847.8 656.0,850.1 656.5,852.2 657.0,854.2 657.5,855.9 658.0,857.5 658.5,859.0 659.0,860.4 659.5,861.6 660.0,862.8 660.5,863.4 661.0,862.3 661.5,861.1 662.0,859.8 662.5,858.4 663.0,856.9 663.5,855.2 664.0,853.4 664.5,851.4 665.0,849.2 665.5,846.9 666.0,844.3 666.5,841.4 667.0,838.3 667.5,834.9 668.0,831.2 668.5,827.2 669.0,822.9 669.5,818.3 670.0,813.4 670.5,808.3 671.0,803.0 671.5,797.7 672.0,792.4 672.5,787.5 673.0,782.9 673.5,779.1 674.0,776.2 674.5,774.4 675.0,773.8 675.5,775.5 676.0,780.0 676.5,786.4 677.0,793.4 677.5,800.2 678.0,806.5 678.5,812.0 679.0,816.9 679.5,821.2 680.0,824.9 680.5,828.2 681.0,831.0 681.5,833.6 682.0,835.9 682.5,837.9 683.0,839.7 683.5,841.3 684.0,842.8 684.5,844.2 685.0,845.4 685.5,846.5 686.0,847.5 686.5,848.5 687.0,849.3 687.5,850.1 688.0,850.8 688.5,851.5 689.0,852.1 689.5,852.7 690.0,853.3 690.5,853.8 691.0,854.3 691.5,854.7 692.0,855.1 692.5,855.5 693.0,855.9 693.5,856.2 694.0,856.6 694.5,856.9 695.0,857.2 695.5,857.5 696.0,857.7 696.5,858.0 697.0,858.2 697.5,858.5 698.0,858.7 698.5,858.9 699.0,859.1 699.5,859.3 700.0,859.5 700.5,859.7 701.0,859.9 701.5,860.0 702.0,860.2 702.5,860.4 703.0,860.5 703.5,860.6 704.0,860.8 704.5,860.9 705.0,861.1 705.5,861.2 706.0,861.3 706.5,861.4 707.0,861.5 707.5,861.6 708.0,861.7 708.5,861.9 709.0,862.0 709.5,862.0 710.0,862.1 710.5,862.2 711.0,862.3 711.5,862.4 712.0,862.5 712.5,862.6 713.0,862.7 713.5,862.7 714.0,862.8 714.5,862.9 715.0,862.9 715.5,863.0 716.0,863.1 716.5,863.1 717.0,863.2 717.5,863.3 718.0,863.3 718.5,863.4 719.0,863.5 719.5,863.5 720.0,863.6 720.5,863.6 721.0,863.7 721.5,863.7 722.0,863.8 722.5,863.8 723.0,863.9 723.5,863.9 724.0,864.0 724.5,864.0 725.0,864.0 725.5,864.1 726.0,864.1 726.5,864.2 727.0,864.2 727.5,864.2 728.0,864.3 728.5,864.3 729.0,864.3 729.5,864.4 730.0,864.4 730.5,864.4 731.0,864.5 731.5,864.5 732.0,864.5 732.5,864.6 733.0,864.6 733.5,864.6 734.0,864.7 734.5,864.7 735.0,864.7 735.5,864.7 736.0,864.8 736.5,864.8 737.0,864.8 737.5,864.8 738.0,864.9 738.5,864.9 739.0,864.9 739.5,864.9 740.0,865.0 740.5,865.0 741.0,865.0 741.5,865.0 742.0,865.0 742.5,865.1 743.0,865.1 743.5,865.1 744.0,865.1 744.5,865.1 745.0,865.2 745.5,865.2 746.0,865.2 746.5,865.2 747.0,865.2 747.5,865.2 748.0,865.3 748.5,865.3 749.0,865.3 749.5,865.3 750.0,865.3 750.5,865.3 751.0,865.4 751.5,865.4 752.0,865.4 752.5,865.4 753.0,865.4 753.5,865.4 754.0,865.4 754.5,865.5 755.0,865.5 755.5,865.5 756.0,865.5 756.5,865.5 757.0,865.5 757.5,865.5 758.0,865.5 758.5,865.6 759.0,865.6 759.5,865.6 760.0,865.6 760.5,865.6 761.0,865.6 761.5,865.6 762.0,865.6 762.5,865.6 763.0,865.7 763.5,865.7"/>
<polyline stroke="#bf00bf" points="553.0,865.6 553.5,865.6 554.0,865.6 554.5,865.6 555.0,865.5 555.5,865.5 556.0,865.5 556.5,865.5 557.0,865.5 557.5,865.5 558.0,865.5 558.5,865.5 559.0,865.4 559.5,865.4 560.0,865.4 560.5,865.4 561.0,865.4 561.5,865.4 562.0,865.4 562.5,865.4 563.0,865.3 563.5,865.3 564.0,865.3 564.5,865.3 565.0,865.3 565.5,865.3 566.0,865.3 566.5,865.2 567.0,865.2 567.5,865.2 568.0,865.2 568.5,865.2 569.0,865.2 569.5,865.1 570.0,865.1 570.5,865.1 571.0,865.1 571.5,865.1 572.0,865.0 572.5,865.0 573.0,865.0 573.5,865.0 574.0,865.0 574.5,864.9 575.0,864.9 575.5,864.9 576.0,864.9 576.5,864.9 577.0,864.8 577.5,864.8 578.0,864.8 578.5,864.8 579.0,864.7 579.5,864.7 580.0,864.7 580.5,864.7 581.0,864.6 581.5,864.6 582.0,864.6 582.5,864.5 583.0,864.5 583.5,864.5 584.0,864.5 584.5,864.4 585.0,864.4 585.5,864.4 586.0,864.3 586.5,864.3 587.0,864.3 587.5,864.2 588.0,864.2 588.5,864.2 589.0,864.1 589.5,864.1 590.0,864.0 590.5,864.0 591.0,864.0 591.5,863.9 592.0,863.9 592.5,863.8 593.0,863.8 593.5,863.7 594.0,863.7 594.5,863.6 595.0,863.6 595.5,863.5 596.0,863.5 596.5,863.4 597.0,863.4 597.5,863.3 598.0,863.3 598.5,863.2 599.0,863.2 599.5,863.1 600.0,863.0 600.5,863.0 601.0,862.9 601.5,862.8 602.0,862.8 602.5,862.7 603.0,862.6 603.5,862.5 604.0,862.5 604.5,862.4 605.0,862.3 605.5,862.2 606.0,862.1 606.5,862.1 607.0,862.0 607.5,861.9 608.0,861.8 608.5,861.7 609.0,861.6 609.5,861.5 610.0,861.4 610.5,861.2 611.0,861.1 611.5,861.0 612.0,860.9 612.5,860.7 613.0,860.6 613.5,860.5 614.0,860.3 614.5,860.2 615.0,860.0 615.5,859.9 616.0,859.7 616.5,859.5 617.0,859.4 617.5,859.2 618.0,859.0 618.5,858.8 619.0,858.6 619.5,858.4 620.0,858.1 620.5,857.9 621.0,857.6 621.5,857.4 622.0,857.1 622.5,856.8 623.0,856.5 623.5,856.2 624.0,855.8 624.5,855.5 625.0,855.1 625.5,854.7 626.0,854.3 626.5,853.8 627.0,853.3 627.5,852.8 628.0,852.3 628.5,851.7 629.0,851.1 629.5,850.4 630.0,849.6 630.5,848.8 631.0,848.0 631.5,847.0 632.0,846.0 632.5,844.9 633.0,843.7 633.5,842.4 634.0,840.9 634.5,839.3 635.0,837.6 635.5,835.6 636.0,833.4 636.5,830.9 637.0,828.2 637.5,825.0 638.0,821.4 638.5,817.3 639.0,812.6 639.5,807.2 640.0,801.2 640.5,794.8 641.0,788.4 641.5,783.1 642.0,779.8 642.5,779.3 643.0,780.0 643.5,781.4 644.0,783.6 644.5,786.3 645.0,789.5 645.5,793.1 646.0,797.0 646.5,801.0 647.0,805.2 647.5,809.3 648.0,813.4 648.5,817.3 649.0,821.2 649.5,824.8 650.0,828.3 650.5,831.5 651.0,834.6 651.5,837.5 652.0,840.1 652.5,842.7 653.0,845.0 653.5,847.2 654.0,849.2 654.5,851.1 655.0,852.8 655.5,854.5 656.0,856.0 656.5,857.4 657.0,858.7 657.5,859.9 658.0,861.1 658.5,862.1 659.0,863.1 659.5,864.1 660.0,865.0 660.5,865.4 661.0,864.6 661.5,863.7 662.0,862.8 662.5,861.7 663.0,860.6 663.5,859.4 664.0,858.2 664.5,856.8 665.0,855.4 665.5,853.8 666.0,852.1 666.5,850.3 667.0,848.4 667.5,846.3 668.0,844.1 668.5,841.7 669.0,839.1 669.5,836.3 670.0,833.4 670.5,830.2 671.0,826.9 671.5,823.4 672.0,819.6 672.5,815.8 673.0,811.8 673.5,807.7 674.0,803.5 674.5,799.4 675.0,795.4 675.5,791.6 676.0,788.2 676.5,785.1 677.0,782.6 677.5,780.8 678.0,779.6 678.5,779.2 679.0,780.8 679.5,785.0 680.0,790.9 680.5,797.4 681.0,803.7 681.5,809.5 682.0,814.6 682.5,819.0 683.0,822.9 683.5,826.3 684.0,829.3 684.5,832.0 685.0,834.3 685.5,836.4 686.0,838.3 686.5,840.0 687.0,841.5 687.5,842.9 688.0,844.2 688.5,845.4 689.0,846.4 689.5,847.4 690.0,848.3 690.5,849.2 691.0,849.9 691.5,850.6 692.0,851.3 692.5,851.9 693.0,852.5 693.5,853.0 694.0,853.5 694.5,854.0 695.0,854.5 695.5,854.9 696.0,855.3 696.5,855.6 697.0,856.0 697.5,856.3 698.0,856.6 698.5,856.9 699.0,857.2 699.5,857.5 700.0,857.7 700.5,858.0 701.0,858.2 701.5,858.4 702.0,858.7 702.5,858.9 703.0,859.1 703.5,859.3 704.0,859.4 704.5,859.6 705.0,859.8 705.5,859.9 706.0,860.1 706.5,860.2 707.0,860.4 707.5,860.5 708.0,860.7 708.5,860.8 709.0,860.9 709.5,861.1 710.0,861.2 710.5,861.3 711.0,861.4 711.5,861.5 712.0,861.6 712.5,861.7 713.0,861.8 713.5,861.9 714.0,862.0 714.5,862.1 715.0,862.2 715.5,862.3 716.0,862.3 716.5,862.4 717.0,862.5 717.5,862.6 718.0,862.7 718.5,862.7 719.0,862.8 719.5,862.9 720.0,862.9 720.5,863.0 721.0,863.1 721.5,863.1 722.0,863.2 722.5,863.2 723.0,863.3 723.5,863.4 724.0,863.4 724.5,863.5 725.0,863.5 725.5,863.6 726.0,863.6 726.5,863.7 727.0,863.7 727.5,863.8 728.0,863.8 728.5,863.8 729.0,863.9 729.5,863.9 730.0,864.0 730.5,864.0 731.0,864.1 731.5,864.1 732.0,864.1 732.5,864.2 733.0,864.2 733.5,864.2 734.0,864.3 734.5,864.3 735.0,864.3 735.5,864.4 736.0,864.4 736.5,864.4 737.0,864.5 737.5,864.5 738.0,864.5 738.5,864.6 739.0,864.6 739.5,864.6 740.0,864.6 740.5,864.7 741.0,864.7 741.5,864.7 742.0,864.7 742.5,864.8 743.0,864.8 743.5,864.8 744.0,864.8 744.5,864.9 745.0,864.9 745.5,864.9 746.0,864.9 746.5,865.0 747.0,865.0 747.5,865.0 748.0,865.0 748.5,865.0 749.0,865.1 749.5,865.1 750.0,865.1 750.5,865.1 751.0,865.1 751.5,865.1 752.0,865.2 752.5,865.2 753.0,865.2 753.5,865.2 754.0,865.2 754.5,865.2 755.0,865.3 755.5,865.3 756.0,865.3 756.5,865.3 757.0,865.3 757.5,865.3 758.0,865.3 758.5,865.4 759.0,865.4 759.5,865.4 760.0,865.4 760.5,865.4 761.0,865.4 761.5,865.4 762.0,865.5 762.5,865.5 763.0,865.5 763.5,865.5"/>
<polyline stroke="#bfbf00" points="553.0,865.4 553.5,865.4 554.0,865.4 554.5,865.4 555.0,865.4 555.5,865.4 556.0,865.4 556.5,865.4 557.0,865.3 557.5,865.3 558.0,865.3 558.5,865.3 559.0,865.3 559.5,865.3 560.0,865.3 560.5,865.2 561.0,865.2 561.5,865.2 562.0,865.2 562.5,865.2 563.0,865.2 563.5,865.1 564.0,865.1 564.5,865.1 565.0,865.1 565.5,865.1 566.0,865.1 566.5,865.0 567.0,865.0 567.5,865.0 568.0,865.0 568.5,865.0 569.0,864.9 569.5,864.9 570.0,864.9 570.5,864.9 571.0,864.8 571.5,864.8 572.0,864.8 572.5,864.8 573.0,864.8 573.5,864.7 574.0,864.7 574.5,864.7 575.0,864.7 575.5,864.6 576.0,864.6 576.5,864.6 577.0,864.6 577.5,864.5 578.0,864.5 578.5,864.5 579.0,864.4 579.5,864.4 580.0,864.4 580.5,864.3 581.0,864.3 581.5,864.3 582.0,864.3 582.5,864.2 583.0,864.2 583.5,864.1 584.0,864.1 584.5,864.1 585.0,864.0 585.5,864.0 586.0,864.0 586.5,863.9 587.0,863.9 587.5,863.8 588.0,863.8 588.5,863.8 589.0,863.7 589.5,863.7 590.0,863.6 590.5,863.6 591.0,863.5 591.5,863.5 592.0,863.4 592.5,863.4 593.0,863.3 593.5,863.3 594.0,863.2 594.5,863.1 595.0,863.1 595.5,863.0 596.0,863.0 596.5,862.9 597.0,862.8 597.5,862.8 598.0,862.7 598.5,862.6 599.0,862.6 599.5,862.5 600.0,862.4 600.5,862.3 601.0,862.3 601.5,862.2 602.0,862.1 602.5,862.0 603.0,861.9 603.5,861.8 604.0,861.7 604.5,861.6 605.0,861.5 605.5,861.4 606.0,861.3 606.5,861.2 607.0,861.1 607.5,861.0 608.0,860.9 608.5,860.8 609.0,860.6 609.5,860.5 610.0,860.4 610.5,860.2 611.0,860.1 611.5,859.9 612.0,859.8 612.5,859.6 613.0,859.4 613.5,859.3 614.0,859.1 614.5,858.9 615.0,858.7 615.5,858.5 616.0,858.3 616.5,858.0 617.0,857.8 617.5,857.6 618.0,857.3 618.5,857.0 619.0,856.7 619.5,856.4 620.0,856.1 620.5,855.8 621.0,855.4 621.5,855.1 622.0,854.7 622.5,854.3 623.0,853.8 623.5,853.3 624.0,852.8 624.5,852.3 625.0,851.7 625.5,851.1 626.0,850.4 626.5,849.7 627.0,849.0 627.5,848.1 628.0,847.3 628.5,846.3 629.0,845.2 629.5,844.1 630.0,842.9 630.5,841.5 631.0,840.0 631.5,838.4 632.0,836.5 632.5,834.5 633.0,832.3 633.5,829.7 634.0,826.8 634.5,823.5 635.0,819.7 635.5,815.4 636.0,810.4 636.5,804.9 637.0,798.9 637.5,793.0 638.0,788.0 638.5,785.0 639.0,784.5 639.5,784.9 640.0,785.9 640.5,787.4 641.0,789.2 641.5,791.5 642.0,794.1 642.5,796.9 643.0,800.0 643.5,803.2 644.0,806.4 644.5,809.7 645.0,813.0 645.5,816.3 646.0,819.4 646.5,822.5 647.0,825.5 647.5,828.4 648.0,831.1 648.5,833.7 649.0,836.2 649.5,838.6 650.0,840.8 650.5,842.9 651.0,844.9 651.5,846.7 652.0,848.5 652.5,850.2 653.0,851.7 653.5,853.2 654.0,854.6 654.5,855.9 655.0,857.1 655.5,858.2 656.0,859.3 656.5,860.3 657.0,861.3 657.5,862.2 658.0,863.1 658.5,863.9 659.0,864.7 659.5,865.4 660.0,866.1 660.5,866.5 661.0,865.8 661.5,865.1 662.0,864.4 662.5,863.6 663.0,862.7 663.5,861.9 664.0,860.9 664.5,859.9 665.0,858.9 665.5,857.8 666.0,856.6 666.5,855.4 667.0,854.0 667.5,852.6 668.0,851.1 668.5,849.5 669.0,847.8 669.5,846.0 670.0,844.1 670.5,842.1 671.0,839.9 671.5,837.6 672.0,835.2 672.5,832.7 673.0,830.0 673.5,827.2 674.0,824.3 674.5,821.3 675.0,818.2 675.5,815.0 676.0,811.7 676.5,808.4 677.0,805.1 677.5,801.9 678.0,798.7 678.5,795.8 679.0,793.0 679.5,790.6 680.0,788.4 680.5,786.7 681.0,785.5 681.5,784.7 682.0,784.4 682.5,785.9 683.0,789.8 683.5,795.3 684.0,801.3 684.5,807.2 685.0,812.5 685.5,817.2 686.0,821.3 686.5,824.9 687.0,828.0 687.5,830.8 688.0,833.2 688.5,835.4 689.0,837.3 689.5,839.0 690.0,840.6 690.5,842.1 691.0,843.4 691.5,844.6 692.0,845.7 692.5,846.7 693.0,847.6 693.5,848.5 694.0,849.3 694.5,850.0 695.0,850.7 695.5,851.4 696.0,852.0 696.5,852.5 697.0,853.0 697.5,853.5 698.0,854.0 698.5,854.4 699.0,854.8 699.5,855.2 700.0,855.6 700.5,855.9 701.0,856.3 701.5,856.6 702.0,856.9 702.5,857.1 703.0,857.4 703.5,857.7 704.0,857.9 704.5,858.1 705.0,858.3 705.5,858.6 706.0,858.8 706.5,859.0 707.0,859.1 707.5,859.3 708.0,859.5 708.5,859.7 709.0,859.8 709.5,860.0 710.0,860.1 710.5,860.3 711.0,860.4 711.5,860.5 712.0,860.7 712.5,860.8 713.0,860.9 713.5,861.0 714.0,861.2 714.5,861.3 715.0,861.4 715.5,861.5 716.0,861.6 716.5,861.7 717.0,861.8 717.5,861.9 718.0,862.0 718.5,862.0 719.0,862.1 719.5,862.2 720.0,862.3 720.5,862.4 721.0,862.4 721.5,862.5 722.0,862.6 722.5,862.7 723.0,862.7 723.5,862.8 724.0,862.9 724.5,862.9 725.0,863.0 725.5,863.1 726.0,863.1 726.5,863.2 727.0,863.2 727.5,863.3 728.0,863.3 728.5,863.4 729.0,863.4 729.5,863.5 730.0,863.5 730.5,863.6 731.0,863.6 731.5,863.7 732.0,863.7 732.5,863.8 733.0,863.8 733.5,863.9 734.0,863.9 734.5,863.9 735.0,864.0 735.5,864.0 736.0,864.1 736.5,864.1 737.0,864.1 737.5,864.2 738.0,864.2 738.5,864.2 739.0,864.3 739.5,864.3 740.0,864.3 740.5,864.4 741.0,864.4 741.5,864.4 742.0,864.5 742.5,864.5 743.0,864.5 743.5,864.5 744.0,864.6 744.5,864.6 745.0,864.6 745.5,864.6 746.0,864.7 746.5,864.7 747.0,864.7 747.5,864.7 748.0,864.8 748.5,864.8 749.0,864.8 749.5,864.8 750.0,864.9 750.5,864.9 751.0,864.9 751.5,864.9 752.0,864.9 752.5,865.0 753.0,865.0 753.5,865.0 754.0,865.0 754.5,865.0 755.0,865.1 755.5,865.1 756.0,865.1 756.5,865.1 757.0,865.1 757.5,865.1 758.0,865.2 758.5,865.2 759.0,865.2 759.5,865.2 760.0,865.2 760.5,865.2 761.0,865.3 761.5,865.3 762.0,865.3 762.5,865.3 763.0,865.3 763.5,865.3"/>
<polyline stroke="#000" stroke-width="1.45" points="553.0,866.6 657.1,866.6 660.4,619.2 663.7,866.6 763.6,866.6"/>
</g>
<g clip-path="url(#cd)" fill="none" stroke-width="1.35" stroke-linejoin="round">
<polyline stroke="#000" stroke-width="1.45" points="763.6,866.6 867.4,866.6 870.8,619.2 874.2,866.6 973.8,866.6"/>
<polyline stroke="#0000ff" points="757.5,866.0 761.1,866.0 764.6,865.9 768.1,866.0 771.7,865.9 775.2,865.9 778.8,865.9 782.3,865.9 785.8,865.9 789.4,865.9 792.9,865.9 796.5,865.8 800.0,865.8 803.5,865.7 807.1,865.8 810.6,865.7 814.2,865.6 817.7,865.5 821.2,865.6 824.8,865.3 828.3,865.3 831.9,865.2 835.4,865.0 838.9,864.7 842.5,864.3 846.0,863.9 849.6,863.9 853.1,863.3 856.6,862.0 860.2,860.0 863.7,854.6 867.3,817.1 870.8,681.2 874.3,817.1 877.9,855.4 881.4,859.9 885.0,862.0 888.5,863.2 892.0,863.8 895.6,863.9 899.1,864.2 902.7,864.7 906.2,864.8 909.7,865.1 913.3,865.3 916.8,865.4 920.4,865.5 923.9,865.5 927.4,865.6 931.0,865.6 934.5,865.7 938.1,865.8 941.6,865.8 945.1,865.8 948.7,865.8 952.2,865.9 955.8,865.9 959.3,865.9 962.8,865.9 966.4,865.9 969.9,865.9 973.5,865.9 977.0,866.0 980.5,866.0 984.1,865.9"/>
<polyline stroke="#008000" points="757.5,865.9 761.1,865.9 764.6,865.8 768.1,865.9 771.7,865.8 775.2,865.8 778.8,865.9 782.3,865.7 785.8,865.8 789.4,865.6 792.9,865.6 796.5,865.7 800.0,865.6 803.5,865.6 807.1,865.4 810.6,865.4 814.2,865.3 817.7,865.2 821.2,864.9 824.8,864.9 828.3,864.7 831.9,864.4 835.4,864.1 838.9,863.7 842.5,863.4 846.0,862.6 849.6,862.3 853.1,860.9 856.6,858.0 860.2,854.5 863.7,845.6 867.3,797.3 870.8,761.2 874.3,797.3 877.9,846.3 881.4,854.6 885.0,858.1 888.5,860.8 892.0,862.3 895.6,862.5 899.1,863.2 902.7,863.7 906.2,864.2 909.7,864.7 913.3,864.7 916.8,864.9 920.4,865.0 923.9,865.3 927.4,865.1 931.0,865.5 934.5,865.4 938.1,865.5 941.6,865.6 945.1,865.6 948.7,865.7 952.2,865.8 955.8,865.8 959.3,865.7 962.8,865.7 966.4,865.9 969.9,865.8 973.5,865.8 977.0,865.8 980.5,865.9 984.1,865.9"/>
<polyline stroke="#ff0000" points="757.5,866.0 761.1,865.9 764.6,865.8 768.1,866.0 771.7,865.9 775.2,865.7 778.8,865.8 782.3,865.8 785.8,865.7 789.4,865.7 792.9,865.5 796.5,865.4 800.0,865.3 803.5,865.3 807.1,865.2 810.6,865.1 814.2,864.9 817.7,864.8 821.2,864.7 824.8,864.8 828.3,864.7 831.9,863.9 835.4,863.8 838.9,863.3 842.5,863.0 846.0,862.4 849.6,860.5 853.1,859.1 856.6,857.6 860.2,851.7 863.7,846.3 867.3,829.5 870.8,782.9 874.3,829.5 877.9,845.9 881.4,849.4 885.0,856.7 888.5,860.2 892.0,861.1 895.6,862.1 899.1,862.5 902.7,863.2 906.2,863.7 909.7,864.3 913.3,864.3 916.8,864.7 920.4,864.8 923.9,865.0 927.4,865.3 931.0,865.2 934.5,865.4 938.1,865.2 941.6,865.4 945.1,865.5 948.7,865.6 952.2,865.6 955.8,865.9 959.3,865.6 962.8,865.8 966.4,865.7 969.9,865.8 973.5,865.8 977.0,865.8 980.5,865.9 984.1,865.9"/>
<polyline stroke="#00bfbf" points="757.5,865.8 761.1,865.8 764.6,865.9 768.1,865.8 771.7,865.7 775.2,865.6 778.8,865.6 782.3,865.6 785.8,865.7 789.4,865.5 792.9,865.5 796.5,865.5 800.0,865.3 803.5,865.2 807.1,865.2 810.6,865.3 814.2,865.1 817.7,865.1 821.2,864.6 824.8,864.5 828.3,864.0 831.9,863.8 835.4,863.5 838.9,862.2 842.5,862.6 846.0,861.9 849.6,860.8 853.1,858.6 856.6,856.3 860.2,851.4 863.7,847.2 867.3,839.4 870.8,800.0 874.3,839.4 877.9,842.2 881.4,851.6 885.0,857.0 888.5,859.0 892.0,860.9 895.6,861.3 899.1,861.7 902.7,863.1 906.2,863.5 909.7,864.0 913.3,864.2 916.8,864.3 920.4,864.6 923.9,864.9 927.4,865.1 931.0,865.1 934.5,865.1 938.1,865.3 941.6,865.4 945.1,865.6 948.7,865.4 952.2,865.7 955.8,865.7 959.3,865.7 962.8,865.7 966.4,865.7 969.9,865.8 973.5,865.8 977.0,865.8 980.5,865.9 984.1,865.8"/>
<polyline stroke="#bf00bf" points="757.5,865.8 761.1,865.7 764.6,865.7 768.1,865.6 771.7,865.6 775.2,865.5 778.8,865.5 782.3,865.5 785.8,865.5 789.4,865.3 792.9,865.5 796.5,865.3 800.0,865.1 803.5,865.2 807.1,864.9 810.6,865.0 814.2,864.9 817.7,864.5 821.2,864.2 824.8,863.9 828.3,863.8 831.9,863.3 835.4,862.7 838.9,862.1 842.5,862.0 846.0,860.6 849.6,858.2 853.1,858.7 856.6,854.8 860.2,853.5 863.7,845.0 867.3,844.3 870.8,834.4 874.3,844.3 877.9,848.2 881.4,852.9 885.0,857.5 888.5,857.7 892.0,858.5 895.6,861.1 899.1,860.9 902.7,862.5 906.2,862.9 909.7,864.2 913.3,863.5 916.8,864.3 920.4,864.5 923.9,864.8 927.4,864.9 931.0,864.7 934.5,865.1 938.1,865.0 941.6,865.3 945.1,865.3 948.7,865.4 952.2,865.4 955.8,865.2 959.3,865.5 962.8,865.5 966.4,865.7 969.9,865.6 973.5,865.6 977.0,865.8 980.5,865.8 984.1,865.6"/>
<polyline stroke="#bfbf00" points="757.5,865.8 761.1,865.8 764.6,865.7 768.1,865.6 771.7,865.6 775.2,865.7 778.8,865.5 782.3,865.6 785.8,865.6 789.4,865.6 792.9,865.5 796.5,865.4 800.0,865.3 803.5,865.2 807.1,865.6 810.6,865.1 814.2,864.8 817.7,864.7 821.2,864.7 824.8,864.5 828.3,863.8 831.9,863.8 835.4,863.4 838.9,862.0 842.5,862.0 846.0,860.5 849.6,859.9 853.1,858.9 856.6,857.3 860.2,856.7 863.7,852.3 867.3,857.9 870.8,838.8 874.3,857.9 877.9,855.0 881.4,855.7 885.0,857.5 888.5,859.1 892.0,859.9 895.6,861.7 899.1,861.4 902.7,862.7 906.2,862.9 909.7,863.9 913.3,863.8 916.8,863.8 920.4,864.5 923.9,864.9 927.4,864.8 931.0,865.0 934.5,865.2 938.1,865.3 941.6,865.4 945.1,865.3 948.7,865.5 952.2,865.6 955.8,865.5 959.3,865.6 962.8,865.4 966.4,865.7 969.9,865.8 973.5,865.8 977.0,865.7 980.5,865.8 984.1,865.9"/>
</g>
<rect x="553.0" y="595.3" width="420.8" height="272.0" fill="none" stroke="#000" stroke-width="1.8"/>
<line x1="763.6" y1="595.3" x2="763.6" y2="867.3" stroke="#000" stroke-width="1.8"/>
<path d="M570.3 867.3 v-7 M623.2 867.3 v-7 M693.8 867.3 v-7 M747.1 867.3 v-7 M780.0 867.3 v-7 M834.2 867.3 v-7 M904.8 867.3 v-7 M957.0 867.3 v-7 M623.2 595.3 v7 M693.8 595.3 v7 M834.0 595.3 v7 M904.6 595.3 v7" stroke="#000" stroke-width="1.6" fill="none"/>
<g font-family="'Liberation Serif', 'DejaVu Serif', serif" font-size="33px" fill="#000">
<text x="547.5" y="627.0" text-anchor="end" textLength="40" lengthAdjust="spacingAndGlyphs">1.0</text>
<text x="547.5" y="746.8" text-anchor="end" textLength="40" lengthAdjust="spacingAndGlyphs">0.5</text>
<text x="547.5" y="874.5" text-anchor="end" textLength="40" lengthAdjust="spacingAndGlyphs">0.0</text>
</g>
<text transform="translate(497.5,760) rotate(-90)" font-family="'Liberation Serif', 'DejaVu Serif', serif" font-size="28px" textLength="52.5" lengthAdjust="spacingAndGlyphs">FFT</text>
<text x="576.0" y="623.6" text-anchor="middle" fill="#000" font-family="'Liberation Sans', sans-serif" font-weight="bold" font-size="25px">(c)</text>
<text x="788.6" y="623.6" text-anchor="middle" fill="#000" font-family="'Liberation Sans', sans-serif" font-weight="bold" font-size="25px">(d)</text>
<text x="672.5" y="665" font-family="'Liberation Serif', 'DejaVu Serif', serif" font-size="27px" textLength="79" lengthAdjust="spacingAndGlyphs"><tspan font-style="italic">L</tspan> = 14</text>
<text x="679" y="687.8" font-family="'Liberation Serif', 'DejaVu Serif', serif" font-size="24.5px" textLength="63.5" lengthAdjust="spacingAndGlyphs"><tspan font-style="italic">J</tspan><tspan font-style="italic" font-size="17.5px" dy="3.5">z</tspan><tspan dy="-3.5"> = 0</tspan></text>
<text x="885" y="665" font-family="'Liberation Serif', 'DejaVu Serif', serif" font-size="27px" textLength="79" lengthAdjust="spacingAndGlyphs"><tspan font-style="italic">L</tspan> = 14</text>
<text x="877.5" y="688.9" font-family="'Liberation Serif', 'DejaVu Serif', serif" font-size="24.5px" textLength="91.3" lengthAdjust="spacingAndGlyphs"><tspan font-style="italic">J</tspan><tspan font-style="italic" font-size="17.5px" dy="3.5">z</tspan><tspan dy="-3.5"> = 0.15</tspan></text>
<text x="570.6" y="891.2" text-anchor="middle" font-family="'Liberation Serif', 'DejaVu Serif', serif" font-size="31.5px"><tspan font-style="italic" font-size="29.3px">ω</tspan></text>
<line x1="560.6" y1="903.5" x2="580.6" y2="903.5" stroke="#000" stroke-width="1.5"/>
<text x="570.6" y="932.7" text-anchor="middle" font-family="'Liberation Serif', 'DejaVu Serif', serif" font-size="31.5px">4</text>
<text x="661.0" y="891.2" text-anchor="middle" font-family="'Liberation Serif', 'DejaVu Serif', serif" font-size="31.5px"><tspan font-style="italic" font-size="29.3px">ω</tspan></text>
<line x1="651.0" y1="903.5" x2="671.0" y2="903.5" stroke="#000" stroke-width="1.5"/>
<text x="661.0" y="932.7" text-anchor="middle" font-family="'Liberation Serif', 'DejaVu Serif', serif" font-size="31.5px">2</text>
<text x="745.6" y="891.2" text-anchor="middle" font-family="'Liberation Serif', 'DejaVu Serif', serif" font-size="31.5px">3<tspan font-style="italic" font-size="29.3px">ω</tspan></text>
<line x1="728.1" y1="903.5" x2="763.1" y2="903.5" stroke="#000" stroke-width="1.5"/>
<text x="745.6" y="932.7" text-anchor="middle" font-family="'Liberation Serif', 'DejaVu Serif', serif" font-size="31.5px">4</text>
<text x="782.7" y="891.2" text-anchor="middle" font-family="'Liberation Serif', 'DejaVu Serif', serif" font-size="31.5px"><tspan font-style="italic" font-size="29.3px">ω</tspan></text>
<line x1="772.7" y1="903.5" x2="792.7" y2="903.5" stroke="#000" stroke-width="1.5"/>
<text x="782.7" y="932.7" text-anchor="middle" font-family="'Liberation Serif', 'DejaVu Serif', serif" font-size="31.5px">4</text>
<text x="872.0" y="891.2" text-anchor="middle" font-family="'Liberation Serif', 'DejaVu Serif', serif" font-size="31.5px"><tspan font-style="italic" font-size="29.3px">ω</tspan></text>
<line x1="862.0" y1="903.5" x2="882.0" y2="903.5" stroke="#000" stroke-width="1.5"/>
<text x="872.0" y="932.7" text-anchor="middle" font-family="'Liberation Serif', 'DejaVu Serif', serif" font-size="31.5px">2</text>
<text x="957.2" y="891.2" text-anchor="middle" font-family="'Liberation Serif', 'DejaVu Serif', serif" font-size="31.5px">3<tspan font-style="italic" font-size="29.3px">ω</tspan></text>
<line x1="939.7" y1="903.5" x2="974.7" y2="903.5" stroke="#000" stroke-width="1.5"/>
<text x="957.2" y="932.7" text-anchor="middle" font-family="'Liberation Serif', 'DejaVu Serif', serif" font-size="31.5px">4</text>
</svg>
</body></html>
